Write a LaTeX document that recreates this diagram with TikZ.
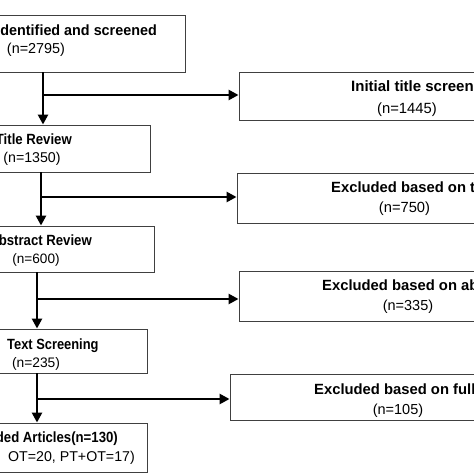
\documentclass[tikz,border=0pt]{standalone}
\usepackage{graphicx}
\usepackage{fontspec}
\setmainfont{Liberation Sans}
\usetikzlibrary{positioning,calc,arrows.meta}

\newcommand{\squeeze}[2]{\scalebox{#1}[1]{#2}}

\begin{document}
\begin{tikzpicture}[x=1pt, y=-1pt]
	\tikzset{
		stage/.style={rectangle, draw=black!75, line width=0.9pt, inner sep=0pt},
		head/.style={font=\fontsize{#1}{17}\selectfont\bfseries, inner sep=0pt, text height=10.5pt, text depth=0pt},
		head/.default=14.8,
		count/.style={font=\fontsize{#1}{17}\selectfont, inner sep=0pt, text height=10.5pt, text depth=0pt},
		count/.default=14.2,
		flow/.style={draw=black, line width=2.8pt, -{Triangle[length=10pt,width=10pt]}}
	}
	\useasboundingbox (0,0) rectangle (474,474);
	\clip (0,0) rectangle (474,474);
	
	% ---- Main column ----
	\node[stage, minimum width=285pt, minimum height=57pt] (ident) at (42.5,43.5) {};
	\node[head, anchor=east] (identt) at (157,30) {\squeeze{0.97}{Identified and screened}};
	\node[count=14.4] (identn) at (36,48) {(n=2795)};
	
	\node[stage, minimum width=250pt, minimum height=47pt] (title) at (25,148.5) {};
	\node[head, anchor=east] (titlet) at (72,139) {\squeeze{0.89}{Title Review}};
	\node[count] (titlen) at (32,157) {(n=1350)};
	
	\node[stage, minimum width=254pt, minimum height=46pt] (abstr) at (27,249) {};
	\node[head, anchor=east] (abstrt) at (92,240) {\squeeze{0.89}{Abstract Review}};
	\node[count=13.6] (abstrn) at (36,258) {(n=600)};
	
	\node[stage, minimum width=247pt, minimum height=44pt] (full) at (23.5,351) {};
	\node[head, anchor=west] (fullt) at (7,344) {\squeeze{0.87}{Text Screening}};
	\node[count=13.8] (fulln) at (36,362) {(n=235)};
	
	\node[stage, minimum width=247pt, minimum height=49pt] (incl) at (23.5,447.5) {};
	\node[head, anchor=east] (inclt) at (118,437) {\squeeze{0.89}{Included Articles(n=130)}};
	\node[count, anchor=east] (incln) at (135,456) {OT=20, PT+OT=17)};
	
	% ---- Exclusions ----
	\node[stage, minimum width=321pt, minimum height=48pt] (exa) at (399.5,96) {};
	\node[head=15, anchor=west] (exat) at (351,86) {Initial title screen};
	\node[count=14.8] (exan) at (407,108) {(n=1445)};
	
	\node[stage, minimum width=323pt, minimum height=50pt] (exb) at (398.5,198) {};
	\node[head, anchor=west] (exbt) at (331,187) {Excluded based on title};
	\node[count=14.7] (exbn) at (404.5,207) {(n=750)};
	
	\node[stage, minimum width=321pt, minimum height=50pt] (exc) at (399.5,296) {};
	\node[head, anchor=west] (exct) at (322,285) {Excluded based on abstract};
	\node[count=14.5] (excn) at (408,305) {(n=335)};
	
	\node[stage, minimum width=330pt, minimum height=46pt] (exd) at (395,397) {};
	\node[head, anchor=west] (exdt) at (314,389) {Excluded based on full text};
	\node[count=14.5] (exdn) at (398,409) {(n=105)};
	
	% ---- Arrows ----
	\coordinate (ja) at (43,95);
	\coordinate (jb) at (41,197);
	\coordinate (jc) at (37,299);
	\coordinate (jd) at (37,399);
	
	\draw[flow] (ident.south -| ja) -- (title.north -| ja);
	\draw[flow] (ja) -- (exa.west |- ja);
	\draw[flow] (title.south -| jb) -- (abstr.north -| jb);
	\draw[flow] (jb) -- (exb.west |- jb);
	\draw[flow] (abstr.south -| jc) -- (full.north -| jc);
	\draw[flow] (jc) -- (exc.west |- jc);
	\draw[flow] (full.south -| jd) -- (incl.north -| jd);
	\draw[flow] (jd) -- (exd.west |- jd);
\end{tikzpicture}
\end{document}
